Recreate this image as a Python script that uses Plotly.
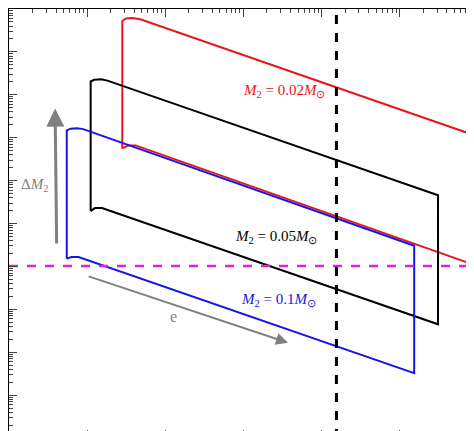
import plotly.graph_objects as go

# log10 coordinates of the closed loops
red_lx = [1.45, 1.45, 1.50, 1.58, 1.68, 5.885, 5.885, 1.62, 1.53, 1.45]
red_ly = [6.75, 9.72, 9.78, 9.79, 9.76, 7.10, 4.08, 6.82, 6.82, 6.75]
blk_lx = [1.045, 1.045, 1.09, 1.18, 1.26, 5.49, 5.49, 1.19, 1.10, 1.045]
blk_ly = [5.29, 8.31, 8.35, 8.36, 8.33, 5.66, 2.65, 5.36, 5.36, 5.29]
blu_lx = [0.739, 0.739, 0.79, 0.87, 0.95, 5.185, 5.185, 0.89, 0.80, 0.739]
blu_ly = [4.18, 7.17, 7.21, 7.22, 7.20, 4.48, 1.51, 4.22, 4.22, 4.18]
hline_ly = 4.01
vline_lx = 4.19

fig = go.Figure()
for lx, ly, c in [(red_lx, red_ly, "#e8161b"), (blk_lx, blk_ly, "black"), (blu_lx, blu_ly, "#1515e6")]:
    fig.add_trace(go.Scatter(x=[10**v for v in lx], y=[10**v for v in ly], mode="lines",
                             line=dict(color=c, width=2), showlegend=False))
fig.add_trace(go.Scatter(x=[1, 10**6.1], y=[10**hline_ly]*2, mode="lines",
                         line=dict(color="#e020e0", width=2.5, dash="dash"), showlegend=False))
fig.add_trace(go.Scatter(x=[10**vline_lx]*2, y=[1, 1e10], mode="lines",
                         line=dict(color="black", width=3, dash="dash"), showlegend=False))

ff = "Liberation Serif"
labels = [(3.52, 8.09, "#e8161b", "0.02"), (3.42, 4.69, "black", "0.05"), (3.45, 3.22, "#1515e6", "0.1")]
for lx, ly, c, v in labels:
    fig.add_annotation(x=lx, y=ly, text=f"<i>M</i><sub>2</sub> = {v}<i>M</i><sub>⊙</sub>",
                       showarrow=False, font=dict(family=ff, size=15, color=c))
fig.add_annotation(x=0.59, y=7.68, ax=0.61, ay=4.5, axref="x", ayref="y", text="",
                   showarrow=True, arrowhead=2, arrowsize=1.2, arrowwidth=3, arrowcolor="gray")
fig.add_annotation(x=3.57, y=2.22, ax=1.0, ay=3.78, axref="x", ayref="y", text="",
                   showarrow=True, arrowhead=2, arrowsize=1.2, arrowwidth=2, arrowcolor="gray")
fig.add_annotation(x=0.32, y=5.9, text="Δ<i>M</i><sub>2</sub>", showarrow=False,
                   font=dict(family=ff, size=15, color="gray"))
fig.add_annotation(x=2.1, y=2.83, text="e", showarrow=False, font=dict(family=ff, size=16, color="gray"))

ax = dict(type="log", showgrid=False, zeroline=False, showticklabels=False, ticks="inside",
          ticklen=8, dtick=1, mirror="ticks", showline=True, linecolor="black", linewidth=1,
          automargin=False, minor=dict(ticks="inside", ticklen=4, showgrid=False))
fig.update_xaxes(**ax, range=[0, 6.04])
fig.update_yaxes(**ax, range=[0, 10])
fig.update_layout(width=474, height=431, margin=dict(l=1, r=1, t=1, b=1, autoexpand=False),
                  plot_bgcolor="white", paper_bgcolor="white")
fig.write_html("out.html")
